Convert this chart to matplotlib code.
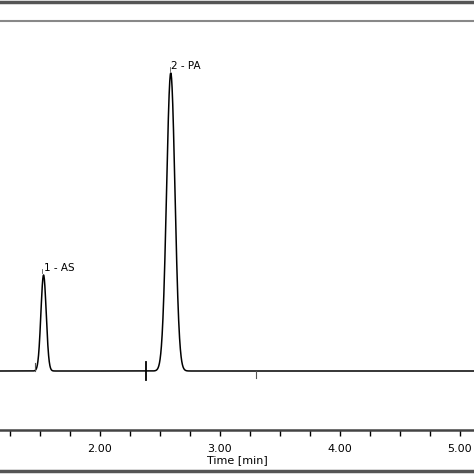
import numpy as np
import matplotlib
matplotlib.use("Agg")
import matplotlib.pyplot as plt
from matplotlib.lines import Line2D

peak_names = ["1 - AS", "2 - PA"]
peak_times = [1.53, 2.59]
peak_heights = [96, 298]
peak_widths = [0.022, 0.035]
event_times = [1.46, 2.38, 3.30]
event_lows = [0, -9, -7]
event_highs = [8, 9, 0]

fig = plt.figure(figsize=(4.74, 4.74), dpi=100)
ax = fig.add_axes([0, 44/474, 1, 409/474])
t = np.linspace(1.0, 5.3, 4000)
y = np.zeros_like(t)
for tr, h, w in zip(peak_times, peak_heights, peak_widths):
    y += h*np.exp(-0.5*((t-tr)/w)**2)
ax.plot(t, y, color="black", lw=1.1)
for te, lo, hi in zip(event_times, event_lows, event_highs):
    ax.plot([te, te], [lo, hi], color="black" if te == 2.38 else "#555", lw=1.3 if te == 2.38 else 0.8)
for n, tr, h in zip(peak_names, peak_times, peak_heights):
    ax.plot([tr-0.01, tr-0.01], [h+2, h+6], color="#555", lw=0.6)
    ax.text(tr, h+2, n, fontsize=7.5, ha="left", va="bottom")
ax.set_xlim(1.167, 5.117)
ax.set_ylim(-59, 350)
ax.set_yticks([])
ax.set_xticks([2, 3, 4, 5])
ax.set_xticklabels(["2.00", "3.00", "4.00", "5.00"], fontsize=8)
ax.set_xticks(np.arange(1.25, 5.2, 0.25), minor=True)
ax.tick_params(axis="x", which="both", direction="out", length=4, width=1, pad=6)
ax.tick_params(axis="x", which="major", length=4)
for s in ["left", "right"]:
    ax.spines[s].set_visible(False)
ax.spines["bottom"].set_linewidth(1.8)
ax.spines["bottom"].set_color("#444")
ax.spines["top"].set_linewidth(1.5)
ax.spines["top"].set_color("#888")
ax.set_xlabel("Time [min]", fontsize=8, labelpad=1)
fig.add_artist(Line2D([0, 1], [1-2/474, 1-2/474], color="#555", lw=2.5))
fig.add_artist(Line2D([0, 1], [1-471/474, 1-471/474], color="#555", lw=2.5))
fig.savefig("out.png", dpi=100)
